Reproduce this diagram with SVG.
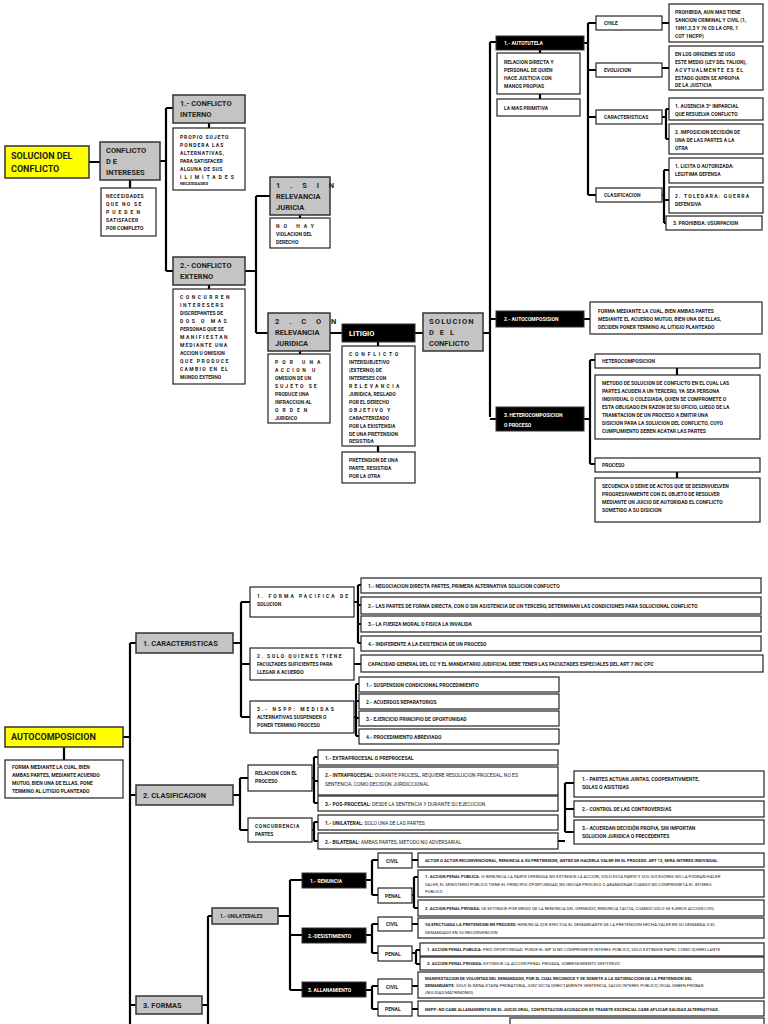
<svg xmlns="http://www.w3.org/2000/svg" width="768" height="1024" viewBox="0 0 768 1024">
<style>
text{font-family:Roboto,"Liberation Sans",sans-serif;font-weight:bold;fill:#222}
.b{fill:#fff;stroke:#222;stroke-width:1.2}
.g{fill:#c4c4c4;stroke:#333;stroke-width:1.5}
.y{fill:#ffff00;stroke:#333;stroke-width:1.5}
.k{fill:#000;stroke:#333;stroke-width:1}
.w{fill:#fff}
.t5{font-size:5px}.t4{font-size:4.3px}.t6{font-size:6px}.t7{font-size:7.5px}.t9{font-size:9px}
.n{font-weight:normal}
#c path{fill:none;stroke:#000;stroke-width:2.2}
</style>
<rect width="768" height="1024" fill="#fff"/>
<g id="c">
<path d="M89 162H100M160 161H166M166 108V271M166 108H173M166 271H173M130 180V188M209 123V128M209 285V289M245 271H256M256 196V333M256 196H270M256 333H268M300 215V218M300 351V354M330 333H342M378 342V346M378 446V452M415 333H423M483 333H490M490 42V417M490 42H496M490 319H496M490 419H496M540 50V53M540 94V99M584 43H588M588 23V195M588 23H596M588 70H596M588 117H596M588 195H596M662 23H669M662 68H669M662 117H666M666 109V139M666 109H669M666 139H669M662 195H664M664 170V223M664 170H669M664 200H669M664 223H666M584 319H590M584 419H590M590 360V464M590 360H595M590 464H595M677 368V375M677 472V478"/>
<path d="M123 737H130M64 747V760M130 643V1024M130 643H136M130 795H136M130 1005H136M233 643H241M241 602V717M241 602H250M241 664H250M241 717H250M354 602H358M358 585V643M358 585H361M358 605H361M358 624H361M358 643H361M354 664H361M354 717H356M356 684V736M356 684H359M356 701H359M356 718H359M356 736H359M233 795H240M240 778V830M240 778H248M240 830H248M312 778H314M314 757V803M314 757H318M314 781H318M314 803H318M312 830H314M314 822V841M314 822H318M314 841H318M558 841H565M565 783V832M565 783H574M565 809H574M565 832H574M202 1005H208M208 916V1024M208 916H212M278 916H290M290 880V990M290 880H302M290 935H302M290 990H302M366 880H372M372 860V895M372 860H378M372 895H378M366 935H372M372 924V953M372 924H378M372 953H378M366 990H372M372 986V1009M372 986H378M372 1009H378M412 860H418M412 895H414M414 877V908M414 877H418M414 908H418M412 924H418M412 953H416M416 950V964M416 950H420M416 964H420M412 986H418M412 1009H418"/>
</g>

<g id="n1"><rect class="y" x="5" y="146" width="84" height="32"/><text class="t9" x="11" y="159">SOLUCION  DEL</text><text class="t9" x="11" y="172">CONFLICTO</text></g>
<g id="n2"><rect class="g" x="100" y="142" width="60" height="38"/><text class="t7" x="106" y="153">CONFLICTO</text><text class="t7" x="106" y="164">D           E</text><text class="t7" x="106" y="175">INTERESES</text></g>
<g id="n3"><rect class="b" x="101" y="188" width="55" height="48"/><text class="t5" x="106" y="198" letter-spacing="0.5">NECESIDADES</text><text class="t5" x="106" y="206" letter-spacing="1.3">QUE NO SE</text><text class="t5" x="106" y="214" letter-spacing="3">PUEDEN</text><text class="t5" x="106" y="222" letter-spacing="0.4">SATISFACER</text><text class="t5" x="106" y="230">POR COMPLETO</text></g>
<g id="n4"><rect class="g" x="173" y="95" width="72" height="28"/><text class="t7" x="180" y="106">1.-  CONFLICTO</text><text class="t7" x="180" y="117">INTERNO</text></g>
<g id="n5"><rect class="b" x="173" y="128" width="72" height="62"/><text class="t5" x="180" y="139" letter-spacing="0.9">PROPIO SUJETO</text><text class="t5" x="180" y="147" letter-spacing="1">PONDERA LAS</text><text class="t5" x="180" y="155" letter-spacing="0.6">ALTERNATIVAS,</text><text class="t5" x="180" y="163">PARA SATISFACER</text><text class="t5" x="180" y="171" letter-spacing="0.4">ALGUNA DE SUS</text><text class="t5" x="180" y="179" letter-spacing="3">ILIMITADES</text><text class="t4" x="180" y="185">NECESIDADES</text></g>
<g id="n6"><rect class="g" x="173" y="257" width="72" height="28"/><text class="t7" x="180" y="268">2.-  CONFLICTO</text><text class="t7" x="180" y="279">EXTERNO</text></g>
<g id="n7"><rect class="b" x="173" y="289" width="72" height="95"/><text class="t5" x="180" y="299" letter-spacing="2.5">CONCURREN</text><text class="t5" x="180" y="307" letter-spacing="1.6">INTERESERS</text><text class="t5" x="180" y="315">DISCREPANTES DE</text><text class="t5" x="180" y="323" letter-spacing="2.5">DOS O MAS</text><text class="t5" x="180" y="331">PERSONAS QUE SE</text><text class="t5" x="180" y="339" letter-spacing="1.5">MANIFIESTAN</text><text class="t5" x="180" y="347" letter-spacing="1">MEDIANTE UNA</text><text class="t5" x="180" y="355">ACCION U OMISION</text><text class="t5" x="180" y="363" letter-spacing="1.5">QUE PRODUCE</text><text class="t5" x="180" y="371" letter-spacing="1.3">CAMBIO EN EL</text><text class="t5" x="180" y="379">MUNDO EXTERNO</text></g>
<g id="n8"><rect class="g" x="270" y="177" width="60" height="38"/><text class="t7" x="276" y="188" letter-spacing="4">1 . S I N</text><text class="t7" x="276" y="199">RELEVANCIA</text><text class="t7" x="276" y="210">JURICIA</text></g>
<g id="n9"><rect class="b" x="270" y="218" width="60" height="30"/><text class="t5" x="276" y="228" letter-spacing="4">NO HAY</text><text class="t5" x="276" y="236">VIOLACION DEL</text><text class="t5" x="276" y="244">DERECHO</text></g>
<g id="n10"><rect class="g" x="268" y="313" width="62" height="38"/><text class="t7" x="275" y="324" letter-spacing="4">2 . C O N</text><text class="t7" x="275" y="335">RELEVANCIA</text><text class="t7" x="275" y="346">JURIDICA</text></g>
<g id="n11"><rect class="b" x="268" y="354" width="62" height="69"/><text class="t5" x="275" y="364" letter-spacing="4">POR UNA</text><text class="t5" x="275" y="372" letter-spacing="2.5">ACCION U</text><text class="t5" x="275" y="380">OMISION DE UN</text><text class="t5" x="275" y="388" letter-spacing="2">SUJETO SE</text><text class="t5" x="275" y="396">PRODUCE UNA</text><text class="t5" x="275" y="404">INFRACCION AL</text><text class="t5" x="275" y="412" letter-spacing="4">ORDEN</text><text class="t5" x="275" y="420">JURIDICO</text></g>
<g id="n12"><rect class="k" x="342" y="324" width="73" height="18"/><text class="t7 w" x="349" y="336">LITIGIO</text></g>
<g id="n13"><rect class="b" x="342" y="346" width="73" height="100"/><text class="t5" x="349" y="356" letter-spacing="2.8">CONFLICTO</text><text class="t5" x="349" y="364">INTERSUBJETIVO</text><text class="t5" x="349" y="372">(EXTERNO) DE</text><text class="t5" x="349" y="380">INTERESES CON</text><text class="t5" x="349" y="388" letter-spacing="2.3">RELEVANCIA</text><text class="t5" x="349" y="396">JURIDICA, REGLADO</text><text class="t5" x="349" y="404">POR EL DERECHO</text><text class="t5" x="349" y="412" letter-spacing="1.5">OBJETIVO Y</text><text class="t5" x="349" y="420">CARACTERIZADO</text><text class="t5" x="349" y="428">POR LA EXISTENSIA</text><text class="t5" x="349" y="436">DE UNA PRETENSION</text><text class="t5" x="349" y="443">RESISTIDA</text></g>
<g id="n14"><rect class="b" x="342" y="452" width="73" height="31"/><text class="t5" x="349" y="462">PRETENSION DE UNA</text><text class="t5" x="349" y="470">PARTE, RESISTIDA</text><text class="t5" x="349" y="478">POR LA OTRA</text></g>
<g id="n15"><rect class="g" x="423" y="313" width="60" height="38"/><text class="t7" x="429" y="324" letter-spacing="1.2">SOLUCION</text><text class="t7" x="429" y="335" letter-spacing="6">DEL</text><text class="t7" x="429" y="346">CONFLICTO</text></g>
<g id="n16"><rect class="k" x="496" y="36" width="88" height="14"/><text class="t5 w" x="504" y="45">1.- AUTOTUTELA</text></g>
<g id="n17"><rect class="b" x="497" y="53" width="83" height="41"/><text class="t5" x="504" y="64">RELACION DIRECTA Y</text><text class="t5" x="504" y="72">PERSONAL DE QUIEN</text><text class="t5" x="504" y="80">HACE JUSTICIA CON</text><text class="t5" x="504" y="88">MANOS PROPIAS</text></g>
<g id="n18"><rect class="b" x="497" y="99" width="83" height="17"/><text class="t5" x="504" y="110">LA MAS PRIMITIVA</text></g>
<g id="n19"><rect class="b" x="596" y="16" width="66" height="14"/><text class="t5" x="604" y="25">CHILE</text></g>
<g id="n20"><rect class="b" x="596" y="63" width="66" height="14"/><text class="t5" x="604" y="72">EVOLUCION</text></g>
<g id="n21"><rect class="b" x="596" y="110" width="66" height="14"/><text class="t5" x="604" y="119">CARACTERISTICAS</text></g>
<g id="n22"><rect class="b" x="596" y="188" width="66" height="14"/><text class="t5" x="604" y="197">CLASIFICACION</text></g>
<g id="n23"><rect class="b" x="669" y="4" width="94" height="38"/><text class="t5" x="675" y="14">PROHIBIDA, AUN MAS TIENE</text><text class="t5" x="675" y="22">SANCION CRIMINAL Y CIVIL (1,</text><text class="t5" x="675" y="30">19N1,2,3 Y 76 CD LA CPR, 1</text><text class="t5" x="675" y="38">COT 1NCPP)</text></g>
<g id="n24"><rect class="b" x="669" y="46" width="94" height="44"/><text class="t5" x="675" y="56">EN LOS ORIGENES SE USO</text><text class="t5" x="675" y="64">ESTE MEDIO (LEY DEL TALION),</text><text class="t5" x="675" y="72" letter-spacing="0.9">ACVTUALMENTE ES EL</text><text class="t5" x="675" y="80">ESTADO QUIEN SE APROPIA</text><text class="t5" x="675" y="87">DE LA JUSTICIA</text></g>
<g id="n25"><rect class="b" x="669" y="98" width="94" height="22"/><text class="t5" x="675" y="108">1. AUSENCIA 3º IMPARCIAL</text><text class="t5" x="675" y="116">QUE RESUELVA CONFLICTO</text></g>
<g id="n26"><rect class="b" x="669" y="124" width="94" height="30"/><text class="t5" x="675" y="134">2. IMPOSICION DECISIÓN DE</text><text class="t5" x="675" y="142">UNA DE LAS PARTES A LA</text><text class="t5" x="675" y="150">OTRA</text></g>
<g id="n27"><rect class="b" x="669" y="158" width="94" height="25"/><text class="t5" x="675" y="168">1. LICITA O AUTORIZADA:</text><text class="t5" x="675" y="176">LEGITIMA DEFENSA</text></g>
<g id="n28"><rect class="b" x="669" y="187" width="94" height="26"/><text class="t5" x="675" y="198" letter-spacing="1.2">2. TOLEDARA: GUERRA</text><text class="t5" x="675" y="206">DEFENSIVA</text></g>
<g id="n29"><rect class="b" x="666" y="216" width="96" height="14"/><text class="t5" x="673" y="225">3. PROHIBIDA: USURPACION</text></g>
<g id="n30"><rect class="k" x="496" y="311" width="88" height="16"/><text class="t5 w" x="504" y="321">2.- AUTOCOMPOSISION</text></g>
<g id="n31"><rect class="b" x="590" y="302" width="172" height="32"/><text class="t5" x="598" y="313">FORMA MEDIANTE LA CUAL, BIEN AMBAS PARTES</text><text class="t5" x="598" y="321">MEDIANTE EL ACUERDO MUTUO, BIEN UNA DE ELLAS,</text><text class="t5" x="598" y="329">DECIDEN PONER TERMINO AL LITIGIO PLANTEADO</text></g>
<g id="n32"><rect class="k" x="496" y="407" width="88" height="24"/><text class="t5 w" x="504" y="417">3.  HETEROCOMPOSICION</text><text class="t5 w" x="504" y="427">O PROCESO</text></g>
<g id="n33"><rect class="b" x="595" y="354" width="165" height="14"/><text class="t5" x="602" y="363">HETEROCOMPOSICION</text></g>
<g id="n34"><rect class="b" x="595" y="375" width="165" height="64"/><text class="t5" x="602" y="385">METODO DE SOLUCION DE CONFLICTO EN EL CUAL LAS</text><text class="t5" x="602" y="393">PARTES ACUDEN A UN TERCERO, YA SEA PERSONA</text><text class="t5" x="602" y="401">INDIVIDUAL O COLEGIADA, QUIEN SE COMPROMETE O</text><text class="t5" x="602" y="409">ESTA OBLIGADO EN RAZON DE SU OFICIO, LUEGO DE LA</text><text class="t5" x="602" y="417">TRAMITACION DE UN PROCESO A EMITIR UNA</text><text class="t5" x="602" y="425">DISICION PARA LA SOLUCION DEL CONFLICTO, CUYO</text><text class="t5" x="602" y="433">CUMPLIMIENTO DEBEN ACATAR LAS PARTES</text></g>
<g id="n35"><rect class="b" x="595" y="458" width="165" height="14"/><text class="t5" x="602" y="467">PROCESO</text></g>
<g id="n36"><rect class="b" x="595" y="478" width="165" height="44"/><text class="t5" x="602" y="488">SECUENCIA O SERIE DE ACTOS QUE SE DESENVUELVEN</text><text class="t5" x="602" y="496">PROGRESIVAMENTE CON EL OBJETO DE RESOLVER</text><text class="t5" x="602" y="504">MEDIANTE UN JUICIO DE AUTORIDAD EL CONFLICTO</text><text class="t5" x="602" y="512">SOMETIDO A SU DISICION</text></g>

<g id="m1"><rect class="y" x="5" y="727" width="118" height="20"/><text class="t9" x="11" y="740">AUTOCOMPOSICION</text></g>
<g id="m2"><rect class="b" x="5" y="760" width="118" height="38"/><text class="t5" x="12" y="769">FORMA MEDIANTE LA CUAL, BIEN</text><text class="t5" x="12" y="777">AMBAS PARTES, MEDIANTE ACUERDO</text><text class="t5" x="12" y="785">MUTUO, BIEN UNA DE ELLAS, PONE</text><text class="t5" x="12" y="793">TERMINO AL LITIGIO PLANTEADO</text></g>
<g id="m3"><rect class="g" x="136" y="633" width="97" height="20"/><text class="t7" x="143" y="646">1. CARACTERISTICAS</text></g>
<g id="m4"><rect class="g" x="136" y="785" width="97" height="20"/><text class="t7" x="143" y="798">2. CLASIFICACION</text></g>
<g id="m5"><rect class="g" x="136" y="996" width="66" height="18"/><text class="t7" x="143" y="1008">3. FORMAS</text></g>
<g id="m6"><rect class="b" x="250" y="587" width="104" height="30"/><text class="t5" x="257" y="598" letter-spacing="2">1. FORMA PACIFICA DE</text><text class="t5" x="257" y="606">SOLUCION</text></g>
<g id="m7"><rect class="b" x="250" y="648" width="104" height="32"/><text class="t5" x="257" y="658" letter-spacing="1.5">2. SOLO QUIENES TIENE</text><text class="t5" x="257" y="666">FACULTADES SUFICIENTES PARA</text><text class="t5" x="257" y="674">LLEGAR A ACUERDO</text></g>
<g id="m8"><rect class="b" x="250" y="701" width="104" height="32"/><text class="t5" x="257" y="711" letter-spacing="2">3.- NSPP: MEDIDAS</text><text class="t5" x="257" y="719">ALTERNATIVAS SUSPENDER O</text><text class="t5" x="257" y="727">PONER TERMINO PROCESO</text></g>
<g id="m9"><rect class="b" x="361" y="578" width="400" height="15"/><text class="t5" x="368" y="588">1.- NEGOCIACION DIRECTA PARTES, PRIMERA ALTERNATIVA SOLUCION CONFUCTO</text></g>
<g id="m10"><rect class="b" x="361" y="597" width="400" height="17"/><text class="t5" x="368" y="608">2.- LAS PARTES DE FORMA DIRECTA, CON O SIN ASISTENCIA DE UN TERCERO, DETERMINAN LAS CONDICIONES PARA SOLUCIONAL CONFLICTO</text></g>
<g id="m11"><rect class="b" x="361" y="616" width="400" height="16"/><text class="t5" x="368" y="626">3.- LA FUERZA MORAL O FISICA LA INVALIDA</text></g>
<g id="m12"><rect class="b" x="361" y="636" width="400" height="15"/><text class="t5" x="368" y="646">4.- INDIFERENTE A LA EXISTENCIA DE UN PROCESO</text></g>
<g id="m13"><rect class="b" x="361" y="655" width="402" height="17"/><text class="t5" x="368" y="666">CAPACIDAD GENERAL DEL CC Y EL MANDATARIO JUDIFICIAL DEBE TENER LAS FACULTADES ESPECIALES DEL ART 7 INC CPC</text></g>
<g id="m14"><rect class="b" x="359" y="677" width="200" height="15"/><text class="t5" x="366" y="687">1.- SUSPENSION CONDICIONAL PROCEDIMIENTO</text></g>
<g id="m15"><rect class="b" x="359" y="694" width="200" height="15"/><text class="t5" x="366" y="704">2.- ACUERDOS REPARATORIOS</text></g>
<g id="m16"><rect class="b" x="359" y="711" width="200" height="15"/><text class="t5" x="366" y="721">3.- EJERCICIO PRINCIPIO DE OPORTUNIDAD</text></g>
<g id="m17"><rect class="b" x="359" y="729" width="200" height="15"/><text class="t5" x="366" y="739">4.- PROCEDIMIENTO ABREVIADO</text></g>
<g id="m18"><rect class="b" x="248" y="765" width="64" height="26"/><text class="t5" x="255" y="775">RELACION CON EL</text><text class="t5" x="255" y="783">PROCESO</text></g>
<g id="m19"><rect class="b" x="248" y="818" width="64" height="24"/><text class="t5" x="255" y="828" letter-spacing="0.6">CONCURRENCIA</text><text class="t5" x="255" y="836">PARTES</text></g>
<g id="m20"><rect class="b" x="318" y="750" width="240" height="15"/><text class="t5" x="325" y="760">1.- EXTRAPROCESAL O PREPROCESAL</text></g>
<g id="m21"><rect class="b" x="318" y="767" width="240" height="28"/><text class="t5" x="325" y="777">2.- INTRAPROCESAL: <tspan class="n">DURANTE PROCESL, REQUIERE RESOLUCION PROCESAL, NO ES</tspan></text><text class="t5 n" x="325" y="786">SENTENCIA, COMO DECISIÓN JURIDICCIONAL</text></g>
<g id="m22"><rect class="b" x="318" y="796" width="240" height="15"/><text class="t5" x="325" y="806">3.- POS-PROCESAL: <tspan class="n">DESDE LA SENTENCIA Y DURANTE SU EJECUCION</tspan></text></g>
<g id="m23"><rect class="b" x="318" y="815" width="240" height="15"/><text class="t5" x="325" y="825">1.- UNILATERAL: <tspan class="n">SOLO UNA DE LAS PARTES</tspan></text></g>
<g id="m24"><rect class="b" x="318" y="833" width="240" height="16"/><text class="t5" x="325" y="844">2.- BILATERAL: <tspan class="n">AMBAS PARTES, METODO NO ADVERSARIAL</tspan></text></g>
<g id="m25"><rect class="b" x="574" y="771" width="190" height="26"/><text class="t5" x="582" y="781">1.- PARTES ACTUAN JUNTAS, COOPERATIVMENTE,</text><text class="t5" x="582" y="789">SOLAS O ASISTIDAS</text></g>
<g id="m26"><rect class="b" x="574" y="801" width="190" height="16"/><text class="t5" x="582" y="811">2.- CONTROL DE LAS CONTROVERSIAS</text></g>
<g id="m27"><rect class="b" x="574" y="820" width="190" height="24"/><text class="t5" x="582" y="830">3.- ACUERDAN DECISIÓN PROPIA, SIN IMPORTAN</text><text class="t5" x="582" y="838">SOLUCION JURIDICA O PRECEDENTES</text></g>
<g id="m28"><rect class="g" x="212" y="908" width="66" height="16"/><text class="t5" x="220" y="918">1.- UNILATERALES</text></g>
<g id="m29"><rect class="k" x="302" y="873" width="64" height="15"/><text class="t5 w" x="310" y="883">1.- RENUNCIA</text></g>
<g id="m30"><rect class="k" x="302" y="928" width="64" height="15"/><text class="t5 w" x="308" y="938">2.-DESISTIMIENTO</text></g>
<g id="m31"><rect class="k" x="302" y="982" width="64" height="15"/><text class="t5 w" x="308" y="992">3. ALLANAMIENTO</text></g>
<g id="m32"><rect class="b" x="378" y="853" width="34" height="15"/><text class="t5" x="386" y="863">CIVIL</text></g>
<g id="m33"><rect class="b" x="378" y="888" width="34" height="15"/><text class="t5" x="385" y="898">PENAL</text></g>
<g id="m34"><rect class="b" x="378" y="917" width="34" height="14"/><text class="t5" x="386" y="926">CIVIL</text></g>
<g id="m35"><rect class="b" x="378" y="946" width="34" height="15"/><text class="t5" x="385" y="956">PENAL</text></g>
<g id="m36"><rect class="b" x="378" y="979" width="34" height="15"/><text class="t5" x="386" y="989">CIVIL</text></g>
<g id="m37"><rect class="b" x="378" y="1002" width="34" height="14"/><text class="t5" x="385" y="1011">PENAL</text></g>
<g id="m38"><rect class="b" x="418" y="853" width="346" height="14"/><text class="t4" x="425" y="862">ACTOR O ACTOR RECONVENCIONAL, RENUNCIA A SU PRETENSION, ANTES DE HACERLA VALER EN EL PROCESO. ART 12, MIRA INTERES INDIVIDUAL</text></g>
<g id="m39"><rect class="b" x="418" y="870" width="346" height="27"/><text class="t4" x="425" y="878">1. ACCION PENAL PUBLICA: <tspan class="n">SI RENUNCIA LA PARTE OFENDIDA NO EXTINGUE LA ACCION, SOLO ESTA PARTE Y SUS SUCESORES NO LA PODRAN HACER</tspan></text><text class="t4 n" x="425" y="886">VALER, EL MINISTERIO PUBLICO TIENE EL PRINCIPIO OPORTUNIDAD, NO INICIAR PROCESO O ABANDONAR CUANDO NO COMPROMETA EL INTERES</text><text class="t4 n" x="425" y="893">PUBLICO</text></g>
<g id="m40"><rect class="b" x="418" y="900" width="346" height="16"/><text class="t4" x="425" y="910">2. ACCION PENAL PRIVADA: <tspan class="n">SE EXTINGUE POR MEDIO DE LA RENUNCIA DEL OFENDIDO, RENUNCIA TACITA, CUANDO SOLO SE EJERCE ACCION CIVIL</tspan></text></g>
<g id="m41"><rect class="b" x="418" y="918" width="346" height="20"/><text class="t4" x="425" y="926">YA EFECTUADA LA PRETENSION EN PROCESO: <tspan class="n">RENUNCIA QUE EFECTUA EL DEMANDANTE DE LA PRETENSION HECHA VALER EN SU DEMANDA O EL</tspan></text><text class="t4 n" x="425" y="934">DEMANDADO EN SU RECONVENCION</text></g>
<g id="m42"><rect class="b" x="420" y="943" width="344" height="13"/><text class="t4" x="427" y="951">1. ACCION PENAL PUBLICA: <tspan class="n">PRIO OPORTUNIDAD. PUEDE EL MP SI NO COMPROMETE INTERES PUBLICO, SOLO EXTINGUE PAPEL COMO QUERELLANTE</tspan></text></g>
<g id="m43"><rect class="b" x="420" y="957" width="344" height="13"/><text class="t4" x="427" y="965">2. ACCION PENAL PRIVADA: <tspan class="n">EXTINGUE LA ACCION PENAL PRIVADA, SOBRESEIMIENTO DEFITINIVO</tspan></text></g>
<g id="m44"><rect class="b" x="418" y="972" width="346" height="26"/><text class="t4" x="425" y="980">MANIFESTACION DE VOLUNTAD DEL DEMANDADO, POR EL CUAL RECONOCE Y SE SOMETE A LA SATISFACCION DE LA PRETENSION DEL</text><text class="t4" x="425" y="987">DEMANDANTE. <tspan class="n">SOLO ELIMINA ETAPA PROBATORIA, JUEZ DICTA DIRECTAMENTE SENTENCIA, SALVO INTERES PUBLICO, IGUAL DEBEN PROBAR</tspan></text><text class="t4 n" x="425" y="994">(NULIDAD MATRIMONIO)</text></g>
<g id="m45"><rect class="b" x="418" y="1001" width="346" height="15"/><text class="t4" x="425" y="1011">NSPP: NO CABE ALLANAMIENTO EN EL JUICIO ORAL, CONTESTACION ACUSACION ES TRAMITE ESCENCIAL CABE APLICAR SALIDAS ALTERNATIVAS.</text></g>
<g id="m46"><rect class="b" x="510" y="1018" width="254" height="12"/></g>
</svg>
